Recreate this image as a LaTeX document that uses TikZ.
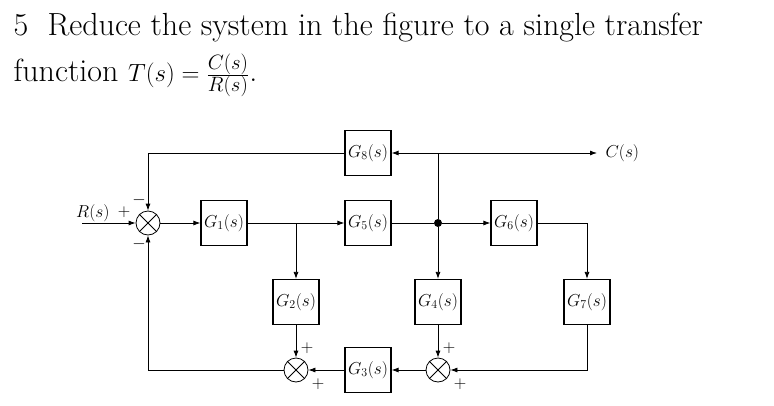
\documentclass[tikz,border=0pt]{standalone}
\usetikzlibrary{arrows.meta}
\begin{document}
\begin{tikzpicture}[x=1pt,y=-1pt,
  blk/.style={draw,line width=1.2pt,minimum width=46pt,minimum height=45pt,inner sep=0pt,font=\fontsize{18}{20}\selectfont},
  sumc/.style={draw,circle,line width=0.8pt,minimum size=24pt,inner sep=0pt},
  ar/.style={-{Latex[length=7pt,width=5pt]},line width=0.8pt},
  ln/.style={line width=0.8pt},
  sg/.style={font=\fontsize{17}{19}\selectfont,inner sep=1pt}]
\useasboundingbox (0,0) rectangle (774,405);
\node[anchor=west,font=\fontsize{32}{38}\selectfont] (t1) at (10,28) {5\ \ Reduce the system in the figure to a single transfer};
\node[anchor=west,font=\fontsize{32}{38}\selectfont] (t2) at (10,75) {function $T(s)=\frac{C(s)}{R(s)}$.};
% junctions
\node[sumc] (s1) at (148,223) {};
\node[sumc] (s2) at (296,370) {};
\node[sumc] (s3) at (438,370) {};
\foreach \s in {s1,s2,s3}{\draw[ln] (\s.north east)--(\s.south west) (\s.north west)--(\s.south east);}
% blocks
\node[blk] (g1) at (224,223) {$G_1(s)$};
\node[blk] (g5) at (368,223) {$G_5(s)$};
\node[blk] (g8) at (368,153) {$G_8(s)$};
\node[blk] (g2) at (296,302) {$G_2(s)$};
\node[blk] (g3) at (368,370) {$G_3(s)$};
\node[blk] (g4) at (438,302) {$G_4(s)$};
\node[blk] (g6) at (514,223) {$G_6(s)$};
\node[blk] (g7) at (587,302) {$G_7(s)$};
\node[circle,fill,inner sep=0pt,minimum size=8pt] (d) at (438,223) {};
\coordinate (b1) at (296,223);
\coordinate (tp) at (438,153);
\coordinate (rin) at (82,223);
\coordinate (cout) at (597,153);
\node[font=\fontsize{16}{18}\selectfont,anchor=west] (C) at (602,153) {$C(s)$};
\node[font=\fontsize{16}{18}\selectfont,anchor=east] (R) at (113,213) {$R(s)$};
% connections
\draw[ar] (rin) -- (s1);
\draw[ar] (s1) -- (g1);
\draw[ar] (g1) -- (g5);
\draw[ar] (b1) -- (g2);
\draw[ln] (g5) -- (d);
\draw[ar] (d) -- (g6);
\draw[ar] (d) -- (g4);
\draw[ln] (d) -- (tp);
\draw[ar] (tp) -- (cout);
\draw[ar] (tp) -- (g8);
\draw[ar] (g8) -| (s1);
\draw[ar] (g6) -| (g7);
\draw[ar] (g7) |- (s3);
\draw[ar] (g4) -- (s3);
\draw[ar] (s3) -- (g3);
\draw[ar] (g3) -- (s2);
\draw[ar] (g2) -- (s2);
\draw[ar] (s2) -| (s1);
% signs
\node[sg] at (124,212) {$+$};
\node[sg] at (139,200) {$-$};
\node[sg] at (139,244) {$-$};
\node[sg] at (307,348) {$+$};
\node[sg] at (318,384) {$+$};
\node[sg] at (449,348) {$+$};
\node[sg] at (460,384) {$+$};
\end{tikzpicture}
\end{document}
